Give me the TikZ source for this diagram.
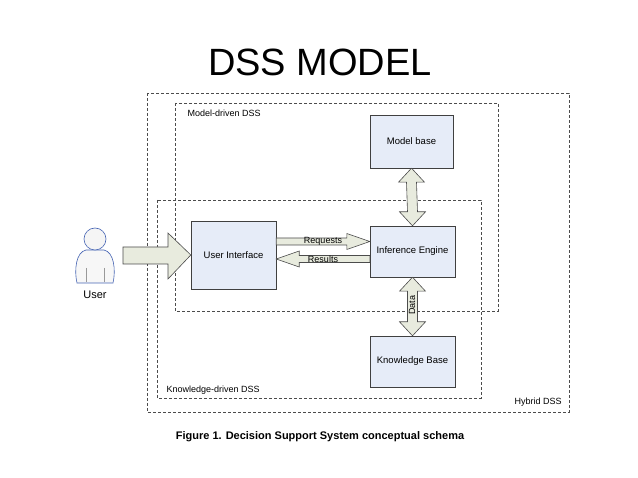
\documentclass[tikz,border=0pt]{standalone}
\usepackage{fontspec}
\setmainfont{Liberation Sans}
\usetikzlibrary{calc}
\definecolor{boxfill}{RGB}{230,236,248}
\definecolor{arrfill}{RGB}{232,235,222}
\definecolor{userblue}{RGB}{70,100,180}
\begin{document}
\begin{tikzpicture}[x=1pt,y=-1pt,
 box/.style={draw=black!75,fill=boxfill,minimum width=85pt,minimum height=52pt,font=\fontsize{9.5}{11}\selectfont,inner sep=0pt},
 frame/.style={draw=black!70,densely dashed,line width=0.5pt},
 arr/.style={draw=black!70,fill=arrfill,line width=0.6pt},
 lab/.style={font=\fontsize{9}{10}\selectfont}]
\useasboundingbox (0,0) rectangle (638,478);
\fill[white] (0,0) rectangle (638,478);
\node[font=\fontsize{38}{42}\selectfont] (title) at (320,62) {DSS MODEL};
\draw[frame] (147,93) rectangle (569,412);
\draw[frame] (175,103) rectangle (498,311);
\draw[frame] (157,200) rectangle (481,398);
\node[lab,anchor=west] (lh) at (511,402) {Hybrid DSS};
\node[lab,anchor=west] (lm) at (184,113) {Model-driven DSS};
\node[lab,anchor=west] (lk) at (163,390) {Knowledge-driven DSS};
\node[box,minimum width=83pt,minimum height=53pt] (mb) at (411.5,141.5) {Model base};
\node[box,minimum height=68pt] (ui) at (233.5,255) {User Interface};
\node[box,minimum height=51pt] (ie) at (412.5,251.5) {Inference Engine};
\node[box,minimum height=51pt] (kb) at (412.5,361.5) {Knowledge Base};
% user icon
\draw[userblue,fill=black!3,line width=0.6pt] (77,283) .. controls (74,270) and (76,252) .. (86,250) -- (104,250) .. controls (114,252) and (116,270) .. (113,283) -- cycle;
\draw[userblue,fill=black!4,line width=0.6pt] (95,239) circle (11);
\draw[black!40] (86,268) -- (86,282) (104,268) -- (104,282);
\node[font=\fontsize{11}{12}\selectfont] (user) at (95,295) {User};
% big arrow
\draw[arr] (123,247) -- (168,247) -- (168,233) -- (ui.west) -- (168,279) -- (168,264) -- (123,264) -- cycle;
% requests
\draw[arr] ($(ui.east)+(0,-17)$) -- ($(ie.west)+(-23,-13.5)$) -- ($(ie.west)+(-23,-18)$) -- ($(ie.west)+(0,-10)$) -- ($(ie.west)+(-23,-2)$) -- ($(ie.west)+(-23,-6.5)$) -- ($(ui.east)+(0,-10)$) -- cycle;
\node[lab] (req) at (323,241) {Requests};
% results
\draw[arr] ($(ie.west)+(0,4)$) -- ($(ui.east)+(23,0.5)$) -- ($(ui.east)+(23,-4)$) -- ($(ui.east)+(0,4)$) -- ($(ui.east)+(23,12)$) -- ($(ui.east)+(23,7.5)$) -- ($(ie.west)+(0,11)$) -- cycle;
\node[lab] (res) at (323,259) {Results};
% vertical double arrows
\foreach \a/\b in {mb/ie, ie/kb}{
 \draw[arr] ($(\a.south)$) -- ($(\a.south)+(13,14)$) -- ($(\a.south)+(5,14)$) -- ($(\b.north)+(5,-14)$) -- ($(\b.north)+(13,-14)$) -- (\b.north) -- ($(\b.north)+(-13,-14)$) -- ($(\b.north)+(-5,-14)$) -- ($(\a.south)+(-5,14)$) -- ($(\a.south)+(-13,14)$) -- cycle;
}
\node[lab,rotate=90] (data) at (412,305) {Data};
\node[font=\bfseries\fontsize{11}{13}\selectfont] (cap) at (320,437) {Figure 1. Decision Support System conceptual schema};
\end{tikzpicture}
\end{document}
